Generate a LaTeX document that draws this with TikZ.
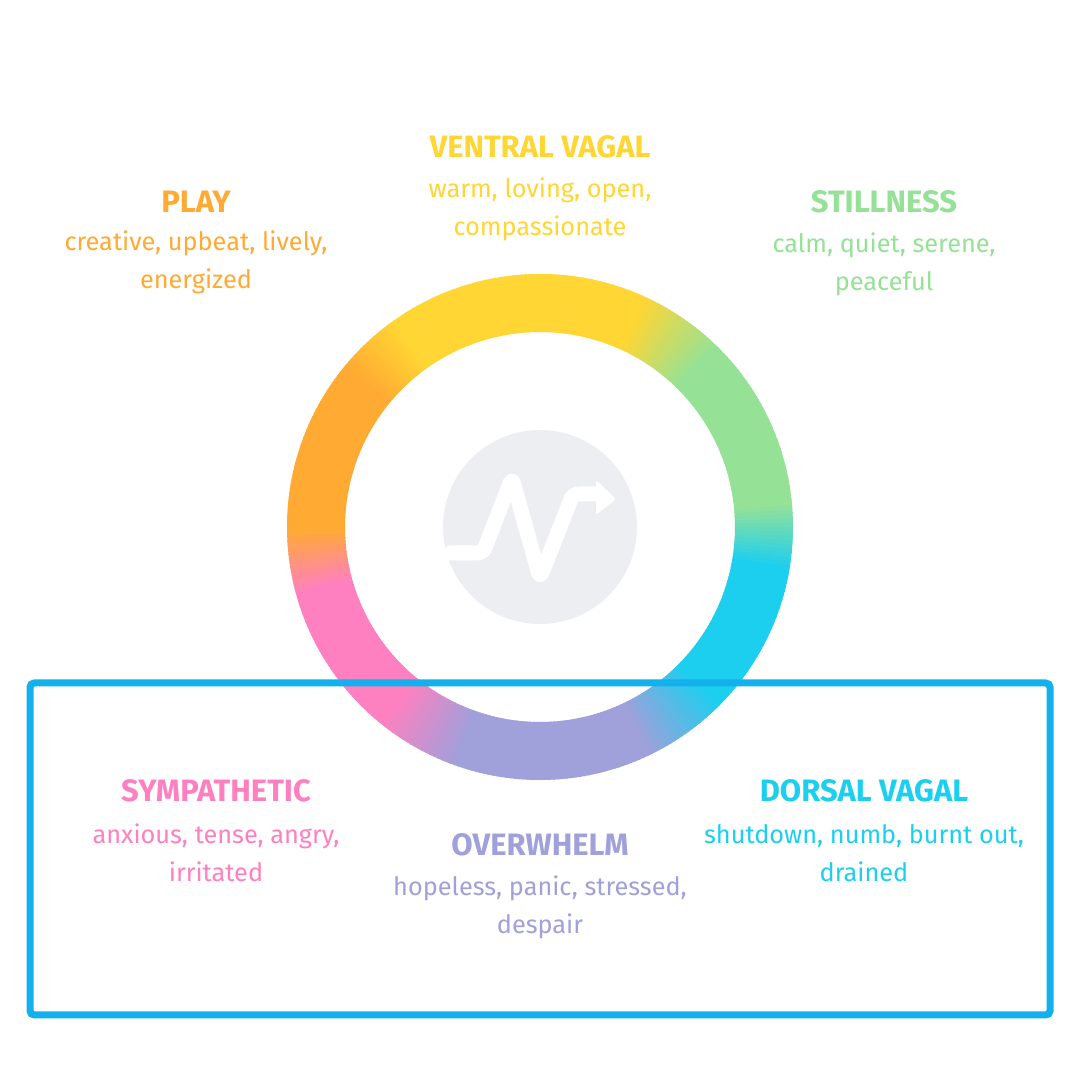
\documentclass[tikz,border=0pt]{standalone}
\usepackage{fontspec}
\setmainfont{Fira Sans}
\usetikzlibrary{calc}
\definecolor{cyell}{HTML}{FFD633}
\definecolor{corng}{HTML}{FFAA33}
\definecolor{cpink}{HTML}{FF80C0}
\definecolor{clav}{HTML}{A0A0DB}
\definecolor{ccyan}{HTML}{1DCFEF}
\definecolor{cgrn}{HTML}{95E297}
\definecolor{clogo}{HTML}{EDEEF1}
\definecolor{cframe}{HTML}{12B0EC}
\tikzset{
  state title/.style={font=\fontsize{22}{24}\selectfont\bfseries, align=center},
  state words/.style={font=\fontsize{18}{27}\selectfont, align=center},
}
\begin{document}
\begin{tikzpicture}[x=0.025cm, y=0.025cm]
  \useasboundingbox[fill=white] (0,0) rectangle (1080,1080);
  % colour ring, drawn as thin wedges
  \coordinate (ctr) at (540,553);
  \foreach \a/\b/\ca/\cb in {65/125/cyell/cyell, 125/140/cyell/corng, 140/180/corng/corng,
      180/195/corng/cpink, 195/230/cpink/cpink, 230/250/cpink/clav, 250/295/clav/clav,
      295/315/clav/ccyan, 315/350/ccyan/ccyan, 350/365/ccyan/cgrn, 365/405/cgrn/cgrn,
      405/425/cgrn/cyell} {
    \pgfmathtruncatemacro{\n}{\b-\a-1}
    \foreach \i in {0,...,\n} {
      \pgfmathtruncatemacro{\p}{100*\i/(\b-\a)}
      \pgfmathsetmacro{\t}{\a+\i}
      \fill[\cb!\p!\ca] ($(ctr)+(\t:253)$) arc[start angle=\t, delta angle=1.4, radius=253]
        -- ($(ctr)+(\t+1.4:195)$) arc[start angle=\t+1.4, delta angle=-1.4, radius=195] -- cycle;
    }
  }
  % logo
  \node[circle, fill=clogo, minimum size=194*0.025cm, inner sep=0pt] (logo) at (540,553) {};
  \draw[white, line width=15*0.025cm, line join=round, line cap=round, rounded corners=4pt]
    (450,527) -- (483,527) -- (512,602) -- (540,502) -- (573,586) -- (594,586);
  \fill[white, rounded corners=2pt] (596,600) -- (616,581) -- (596,565) -- cycle;
  % frame
  \draw[cframe, line width=7*0.025cm, rounded corners=3pt] (30,397) rectangle (1050,65);
  % labels
  \node[state title, text=corng] (play) at (196,878) {PLAY};
  \node[state words, text=corng] (playw) at (196,818) {creative, upbeat, lively,\\energized};
  \node[state title, text=cyell] (ventral) at (540,933) {VENTRAL VAGAL};
  \node[state words, text=cyell] (ventralw) at (540,871) {warm, loving, open,\\compassionate};
  \node[state title, text=cgrn] (still) at (884,878) {STILLNESS};
  \node[state words, text=cgrn] (stillw) at (884,816) {calm, quiet, serene,\\peaceful};
  \node[state title, text=cpink] (symp) at (216,289) {SYMPATHETIC};
  \node[state words, text=cpink] (sympw) at (216,227) {anxious, tense, angry,\\irritated};
  \node[state title, text=clav] (over) at (540,235) {OVERWHELM};
  \node[state words, text=clav] (overw) at (540,173) {hopeless, panic, stressed,\\despair};
  \node[state title, text=ccyan] (dorsal) at (864,289) {DORSAL VAGAL};
  \node[state words, text=ccyan] (dorsalw) at (864,227) {shutdown, numb, burnt out,\\drained};
\end{tikzpicture}
\end{document}
